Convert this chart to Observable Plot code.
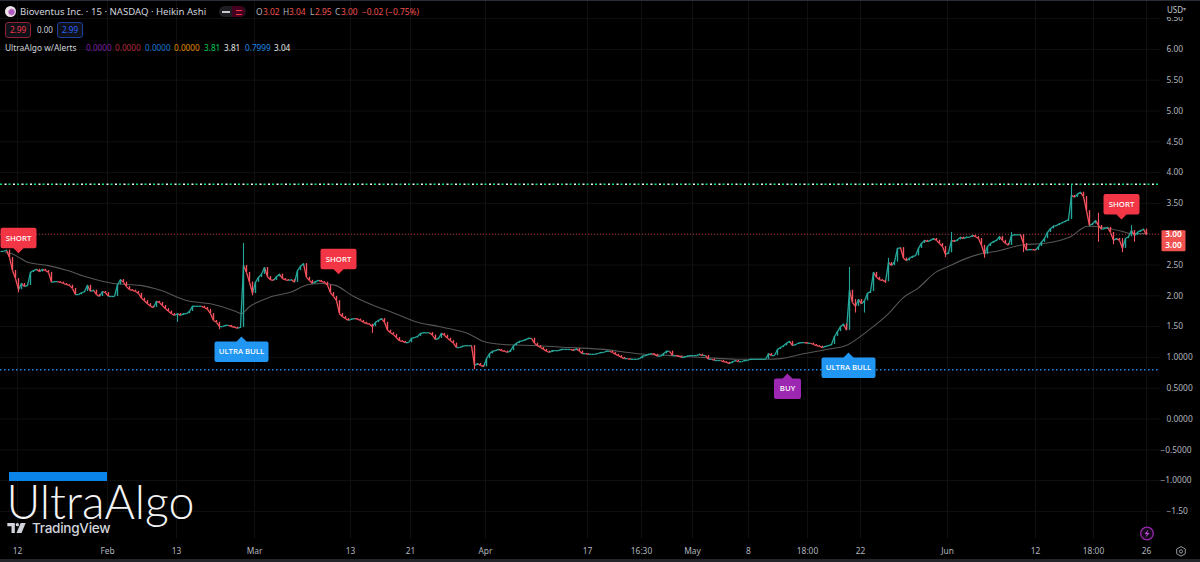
<!DOCTYPE html>
<html>
<head>
<meta charset="utf-8">
<script src="https://cdn.jsdelivr.net/npm/d3@7"></script>
<script src="https://cdn.jsdelivr.net/npm/@observablehq/plot@0.6"></script>
<style>
html,body{margin:0;padding:0;background:#000;overflow:hidden}
#wrap{position:relative;width:1200px;height:562px;font-family:"Noto Sans",Roboto,sans-serif;color:#d1d4dc}
#wrap svg{display:block}
.o{position:absolute;white-space:nowrap;line-height:1}
.box{position:absolute;top:22px;height:14px;width:24px;border:1px solid;border-radius:3px;background:#10121a;font-size:8.2px;line-height:14px;text-align:center}
</style>
</head>
<body>
<div id="wrap"></div>
<script>
// Heikin Ashi closes, one bar every 3 time units starting at 3
const barStep = 3;
const closes = [
2.72,2.74,2.62,2.41,2.28,2.10,2.20,2.15,2.17,2.38,
2.41,2.43,2.39,2.43,2.41,2.38,2.22,2.23,2.23,2.22,
2.20,2.18,2.17,2.12,2.02,2.02,2.05,2.07,2.17,2.07,
2.09,2.02,1.99,2.07,2.05,1.99,1.99,1.99,2.18,2.26,
2.22,2.15,2.10,2.09,2.07,2.04,1.96,1.92,1.87,1.83,
1.81,1.91,1.89,1.84,1.79,1.75,1.71,1.68,1.71,1.68,
1.71,1.71,1.75,1.83,1.83,1.83,1.83,1.81,1.78,1.71,
1.60,1.57,1.50,1.50,1.52,1.52,1.50,1.49,1.47,1.49,
2.49,2.38,2.22,2.04,2.22,2.30,2.35,2.46,2.31,2.26,
2.25,2.31,2.35,2.28,2.26,2.25,2.26,2.22,2.41,2.48,
2.52,2.30,2.25,2.20,2.23,2.25,2.23,2.22,2.17,2.05,
1.99,1.92,1.71,1.66,1.63,1.60,1.62,1.63,1.62,1.60,
1.57,1.55,1.54,1.50,1.57,1.60,1.63,1.57,1.44,1.40,
1.37,1.32,1.27,1.26,1.24,1.24,1.31,1.32,1.34,1.39,
1.40,1.40,1.40,1.36,1.29,1.31,1.39,1.36,1.31,1.27,
1.23,1.16,1.16,1.18,1.19,1.19,1.19,0.87,0.90,0.87,
0.85,0.98,1.06,1.10,1.11,1.13,1.11,1.10,1.08,1.11,
1.19,1.23,1.26,1.27,1.29,1.31,1.31,1.23,1.19,1.16,
1.13,1.10,1.08,1.11,1.11,1.11,1.13,1.13,1.13,1.13,
1.11,1.14,1.10,1.06,1.06,1.05,1.05,1.05,1.06,1.08,
1.08,1.10,1.10,1.08,1.05,1.03,1.00,0.98,0.98,0.97,
0.97,0.97,0.98,1.02,1.03,1.05,1.06,1.05,1.02,1.02,
1.06,1.10,1.10,1.03,1.03,1.02,1.00,1.00,1.02,1.03,
1.03,1.03,1.05,1.03,1.03,0.97,0.97,0.95,0.95,0.95,
0.93,0.92,0.90,0.93,0.95,0.93,0.93,0.95,0.95,0.97,
0.97,0.97,0.97,0.97,0.97,1.06,1.03,1.03,1.13,1.16,
1.19,1.23,1.26,1.19,1.21,1.23,1.24,1.24,1.23,1.23,
1.21,1.19,1.18,1.16,1.18,1.19,1.21,1.34,1.42,1.50,
1.54,1.44,2.09,1.89,1.83,1.94,1.87,1.92,2.04,2.07,
2.38,2.30,2.26,2.25,2.23,2.54,2.49,2.55,2.77,2.78,
2.61,2.57,2.61,2.64,2.65,2.77,2.85,2.90,2.88,2.90,
2.93,2.90,2.85,2.80,2.67,2.70,2.90,2.88,2.91,2.95,
2.93,2.95,2.95,2.98,2.96,2.93,2.82,2.67,2.80,2.85,
2.88,2.90,2.96,2.90,2.85,2.82,2.98,2.99,2.99,2.99,
2.85,2.74,2.75,2.75,2.74,2.80,2.87,2.93,3.03,3.09,
3.13,3.14,3.17,3.19,3.21,3.24,3.63,3.60,3.65,3.68,
3.61,3.38,3.14,3.17,3.22,3.14,3.08,3.09,3.11,3.03,
2.90,2.93,2.90,2.77,2.93,2.96,3.06,2.98,3.03,3.06,
3.08,2.99
];
// Notable wicks
const wickTimes = [18,177,219,252,372,474,243,849,855,864,885,888,945,951,984,1011,1023,1071,1098,1113,1122,1131,1134];
const wickHighs = [2.20,1.71,1.50,2.22,1.50,1.19,2.85,2.46,1.94,1.92,2.23,2.61,2.80,3.03,2.82,3.03,2.99,3.79,3.34,3.03,2.93,3.14,3.06];
const wickLows  = [2.05,1.57,1.45,2.00,1.39,0.80,1.49,1.54,1.72,1.72,2.20,2.23,2.62,2.70,2.61,2.82,2.70,3.24,2.87,2.83,2.70,2.96,2.87];

// Moving average
const maTimes = [5,10,20,28,48,67,87,113,140,160,187,210,235,241,248,268,292,307,322,335,352,375,392,415,442,470,483,503,537,570,603,637,670,703,737,767,780,803,830,845,868,888,902,918,935,948,968,982,995,1023,1043,1070,1087,1103,1123,1130,1147];
const maValues = [2.70,2.69,2.61,2.54,2.49,2.41,2.30,2.20,2.17,2.09,1.92,1.87,1.75,1.71,1.81,1.97,2.07,2.18,2.20,2.17,2.00,1.83,1.73,1.58,1.49,1.37,1.26,1.21,1.19,1.16,1.13,1.06,1.03,1.00,0.97,0.97,0.98,1.06,1.14,1.19,1.44,1.71,1.96,2.13,2.38,2.48,2.62,2.69,2.72,2.83,2.85,2.96,3.13,3.11,3.04,3.01,3.01];

// Levels
const upperLevel = 3.81, lowerLevel = 0.7999, lastPrice = 3.00;

// Signals
const signalTimes  = [18,338,1121,241,848,787];
const signalPrices = [2.69,2.35,3.24,1.34,1.08,0.74];
const signalLabels = ["SHORT","SHORT","SHORT","ULTRA BULL","ULTRA BULL","BUY"];

// Axes
const yTicks = [6.5,6,5.5,5,4.5,4,3.5,3,2.5,2,1.5,1,0.5,0,-0.5,-1,-1.5];
const yTickLabels = ["6.50","6.00","5.50","5.00","4.50","4.00","3.50","3.00","2.50","2.00","1.50","1.0000","0.5000","0.0000","−0.5000","−1.0000","−1.50"];
const xTicks = [17,107,176,254,350,410,485,587,641,692,748,807,860,947,1035,1093,1146];
const xTickLabels = ["12","Feb","13","Mar","13","21","Apr","17","16:30","May","8","18:00","22","Jun","12","18:00","26"];

const axisX = 1166, axisPrice = -2.15, gridEnd = 1160, gridBottom = -1.95;
const UP = "#26a69a", DOWN = "#f7525f";

const bars = closes.map((c, i) => {
  const time = (i + 1) * barStep;
  const open = i ? closes[i - 1] : c;
  const w = wickTimes.indexOf(time);
  return {time, prev: time - barStep, open, close: c,
    high: w >= 0 ? wickHighs[w] : Math.max(open, c),
    low: w >= 0 ? wickLows[w] : Math.min(open, c),
    color: c >= open ? UP : DOWN};
});
const ma = maTimes.map((t, i) => ({t, v: maValues[i]}));
const signals = signalTimes.map((t, i) => ({t, p: signalPrices[i], label: signalLabels[i]}));

function rr(ctx, x0, y0, x1, y1, r) {
  ctx.moveTo(x0 + r, y0);
  ctx.lineTo(x1 - r, y0); ctx.arcTo(x1, y0, x1, y0 + r, r);
  ctx.lineTo(x1, y1 - r); ctx.arcTo(x1, y1, x1 - r, y1, r);
  ctx.lineTo(x0 + r, y1); ctx.arcTo(x0, y1, x0, y1 - r, r);
  ctx.lineTo(x0, y0 + r); ctx.arcTo(x0, y0, x0 + r, y0, r);
  ctx.closePath();
}
const flag = (w, dir) => ({draw(ctx) {
  // dir -1: label above the tip, +1: label below the tip
  const near = dir * 5, far = dir * 25.5;
  rr(ctx, -w, Math.min(near, far), w, Math.max(near, far), 2);
  ctx.moveTo(-5, near); ctx.lineTo(0, 0); ctx.lineTo(5, near); ctx.closePath();
}});
const priceBox = {draw(ctx) { rr(ctx, -12, -4, 12, 17, 1); }};

const chart = Plot.plot({
  width: 1200, height: 562,
  marginTop: 0, marginBottom: 0, marginLeft: 0, marginRight: 0,
  x: {domain: [0, 1200], range: [0, 1200], axis: null},
  y: {domain: [6.794, -2.329], range: [0, 562], axis: null},
  color: {type: "identity"},
  style: {background: "#000", fontFamily: '"Noto Sans",Roboto,sans-serif'},
  marks: [
    Plot.ruleY(yTicks, {x1: 0, x2: gridEnd, stroke: "#101010", strokeWidth: 1}),
    Plot.ruleX(xTicks, {y1: 6.794, y2: gridBottom, stroke: "#101010", strokeWidth: 1}),
    Plot.ruleY([lastPrice], {x1: 0, x2: gridEnd, stroke: "#f23645", strokeOpacity: 0.7, strokeWidth: 1, strokeDasharray: "1 2"}),
    Plot.ruleY([upperLevel], {x1: 0, x2: gridEnd, stroke: "#00e676", strokeWidth: 1.6, strokeDasharray: "2 6.5"}),
    Plot.ruleY([upperLevel], {x1: 0, x2: gridEnd, stroke: "#e8fff4", strokeWidth: 1.6, strokeDasharray: "2 6.5", strokeDashoffset: 4}),
    Plot.ruleY([lowerLevel], {x1: 0, x2: gridEnd, stroke: "#1e88e5", strokeWidth: 1.5, strokeDasharray: "1.5 2.5"}),
    Plot.line(ma, {x: "t", y: "v", stroke: "#565656", strokeWidth: 1.1, curve: "monotone-x"}),
    Plot.link(bars, {x1: "prev", x2: "time", y1: "open", y2: "close", stroke: "color", strokeWidth: 1.3}),
    Plot.ruleX(bars, {x: "time", y1: "low", y2: "high", stroke: "color", strokeWidth: 1.1}),
    Plot.ruleX(bars, {x: "time", y1: "open", y2: "close", stroke: "color", strokeWidth: 1.3}),

    Plot.dot(signals.filter(d => d.label === "SHORT"), {x: "t", y: "p", symbol: flag(18, -1), r: 5, fill: "#f23645", stroke: "none"}),
    Plot.dot(signals.filter(d => d.label === "ULTRA BULL"), {x: "t", y: "p", symbol: flag(27, 1), r: 5, fill: "#2196f3", stroke: "none"}),
    Plot.dot(signals.filter(d => d.label === "BUY"), {x: "t", y: "p", symbol: flag(13.5, 1), r: 5, fill: "#9c27b0", stroke: "none"}),
    Plot.text(signals, {x: "t", y: "p", text: "label", fill: "#fff", fontSize: 7.8, fontWeight: 500,
      filter: d => d.label === "SHORT", dy: -15}),
    Plot.text(signals, {x: "t", y: "p", text: "label", fill: "#fff", fontSize: 7.8, fontWeight: 500,
      filter: d => d.label !== "SHORT", dy: 15}),

    Plot.text(yTicks, {x: (d, i) => yTickLabels[i].length === 7 ? axisX - 6 : axisX, y: d => d, text: (d, i) => yTickLabels[i], textAnchor: "start", fill: "#b2b5be", fontSize: 8.4}),
    Plot.text(xTicks, {x: d => d, y: axisPrice, text: (d, i) => xTickLabels[i], fill: "#b2b5be", fontSize: 8.4}),

    Plot.dot([lastPrice], {x: 1173, y: d => d, symbol: priceBox, r: 5, fill: "#f0524f", stroke: "none"}),
    Plot.text([lastPrice], {x: 1173, y: d => d, text: d => d.toFixed(2), fill: "#fff", fontSize: 8.4, fontWeight: 600, dy: 0.5}),
    Plot.text([lastPrice], {x: 1173, y: d => d, text: d => d.toFixed(2), fill: "#fff", fontSize: 8.4, fontWeight: 600, dy: 11.5})
  ]
});
const wrap = document.getElementById("wrap");
wrap.appendChild(chart);

function put(text, left, top, size, color, extra) {
  const d = document.createElement("div");
  d.className = "o";
  d.textContent = text;
  d.style.cssText = `left:${left}px;top:${top}px;font-size:${size}px;color:${color};${extra || ""}`;
  wrap.appendChild(d);
  return d;
}
// Top and bottom hairlines, USD corner
put("", 0, 0, 1, "#000", "width:1200px;height:1px;background:#2a2e39");
put("", 0, 559, 1, "#000", "width:1200px;height:3px;background:#23252b");
put("", 1160, 1, 1, "#000", "width:40px;height:16px;background:#000");
put("USD", 1167, 5.5, 8, "#c6c9d2");
put("▾", 1183, 6, 6, "#9598a1");

// Legend rows
put("", 5, 6, 1, "#000", "width:11px;height:11px;border-radius:50%;background:radial-gradient(circle at 60% 55%,#b05ac0 0 25%,#f0e6ea 45%)");
put("Bioventus Inc. · 15 · NASDAQ · Heikin Ashi", 20, 7, 9.6, "#d1d4dc");
put("", 219, 6, 1, "#000", "width:27px;height:11px;border-radius:6px;background:#1e1e22");
put("", 222, 11, 1, "#000", "width:8px;height:2px;background:#c8c8c8");
put("", 232, 6, 1, "#000", "width:13px;height:11px;border-radius:0 6px 6px 0;background:#45001f");
put("", 236, 10, 1, "#000", "width:6px;height:3px;border-top:1px solid #f23645;border-bottom:1px solid #f23645");
[["O","#b2b5be",256],["3.02","#ef5350",263],["H","#b2b5be",283],["3.04","#ef5350",289],["L","#b2b5be",310],["2.95","#ef5350",315],["C","#b2b5be",335],["3.00","#ef5350",341]]
  .forEach(p => put(p[0], p[2], 8, 8.4, p[1]));
put("−0.02 (−0.75%)", 362, 8, 8.4, "#ef5350");
const b1 = document.createElement("div"); b1.className = "box"; b1.textContent = "2.99";
b1.style.cssText = "left:5px;color:#f23645;border-color:#8c2233"; wrap.appendChild(b1);
put("0.00", 37, 26, 8, "#d1d4dc");
const b2 = document.createElement("div"); b2.className = "box"; b2.textContent = "2.99";
b2.style.cssText = "left:57px;color:#2962ff;border-color:#1f3f9e"; wrap.appendChild(b2);
put("UltraAlgo w/Alerts", 5, 44, 8.4, "#d1d4dc");
[["0.0000",86,"#7b1fa2"],["0.0000",115,"#b2283a"],["0.0000",145,"#1976d2"],["0.0000",174,"#e08a00"],["3.81",204,"#00c853"],["3.81",224,"#e6e6e6"],["0.7999",245,"#1e88e5"],["3.04",274,"#e6e6e6"]]
  .forEach(v => put(v[0], v[1], 44, 8.2, v[2]));

// Watermark
put("", 9, 472, 1, "#000", "width:98px;height:9px;background:#0a84e8");
put("UltraAlgo", 6.5, 478, 46.5, "#f4f4f4", "font-family:Lato,'Open Sans',sans-serif;font-weight:300;");
const logo = document.createElementNS("http://www.w3.org/2000/svg", "svg");
logo.setAttribute("width", 19); logo.setAttribute("height", 10); logo.setAttribute("viewBox", "0 0 22 12");
logo.style.cssText = "position:absolute;left:7px;top:523px";
logo.innerHTML = '<path fill="#d1d4dc" d="M0 0H9V12H5V4H0Z"/><circle cx="12" cy="2" r="2" fill="#d1d4dc"/><path fill="#d1d4dc" d="M16 0H22L17 12H11Z"/>';
wrap.appendChild(logo);
put("TradingView", 32, 521.5, 13.6, "#d1d4dc", "font-family:Inter,Roboto,sans-serif;font-weight:500;letter-spacing:-0.3px");

// Bottom icons
const icons = document.createElementNS("http://www.w3.org/2000/svg", "svg");
icons.setAttribute("width", 1200); icons.setAttribute("height", 562);
icons.style.cssText = "position:absolute;left:0;top:0;pointer-events:none";
icons.innerHTML = '<circle cx="1147" cy="533.5" r="6.3" fill="#160a1a" stroke="#9c27b0" stroke-width="1.3"/><path d="M1148.5 529.5L1144.5 534H1147L1145.5 537.5L1149.5 533H1147Z" fill="#c050e0"/>'
 + '<path d="M1181 546.6L1185.3 549V553.8L1181 556.2L1176.7 553.8V549Z" fill="none" stroke="#9598a1" stroke-width="1"/><circle cx="1181" cy="551.4" r="1.6" fill="none" stroke="#9598a1"/>';
wrap.appendChild(icons);
</script>
</body>
</html>
